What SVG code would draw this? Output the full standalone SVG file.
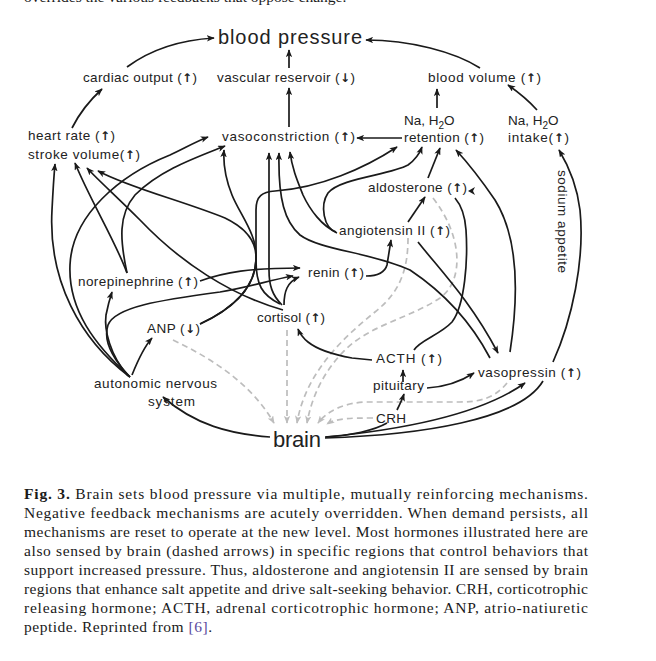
<svg xmlns="http://www.w3.org/2000/svg" width="656" height="661" viewBox="0 0 656 661">
<style>
.l{font-family:"Liberation Sans","DejaVu Sans",sans-serif;font-size:13.5px;fill:#222}
.big{font-size:20px}
.br{font-size:22px}
.ar{font-family:"DejaVu Sans",sans-serif;font-weight:bold;font-size:12px}
.c{stroke:#1a1a1a;stroke-width:1.7;fill:none;marker-end:url(#a)}
.n{stroke:#1a1a1a;stroke-width:1.7;fill:none}
.d{stroke:#bdbdbd;stroke-width:1.7;stroke-dasharray:6 4;fill:none;marker-end:url(#g)}
.cap{font-family:"Liberation Serif","DejaVu Serif",serif;font-size:15.5px;fill:#1a1a1a}
.sub{font-size:10px}
</style>
<defs>
<marker id="a" viewBox="0 0 10 8" refX="9" refY="4" markerWidth="8" markerHeight="6.4" markerUnits="userSpaceOnUse" orient="auto"><path d="M0,0 L10,4 L0,8 L2.5,4 z" fill="#1a1a1a"/></marker>
<marker id="g" viewBox="0 0 10 8" refX="9" refY="4" markerWidth="8" markerHeight="6.4" markerUnits="userSpaceOnUse" orient="auto"><path d="M0,0 L10,4 L0,8 L2.5,4 z" fill="#bdbdbd"/></marker>
</defs>
<rect width="656" height="661" fill="#fff"/>
<text class="cap" x="24" y="2">overrides the various feedbacks that oppose change.</text>

<g id="connectors">
<path class="d" d="M173,340 C215,360 252,385 274,423"/>
<path class="d" d="M287,330 L287,423"/>
<path class="d" d="M408,238 C408,270 400,292 375,312 C340,340 305,375 297,423"/>
<path class="d" d="M433,198 C462,235 465,280 440,298 C410,318 370,325 345,350 C325,370 312,395 307,423"/>
<path class="d" d="M507,383 C495,398 480,402 460,402 L365,402 C345,403 328,410 318,423"/>
<path class="d" d="M373,418 C352,418 336,418 327,424"/>
<path class="c" d="M127,67 C150,50 180,40 214,38"/>
<path class="c" d="M289,68 L289,50"/>
<path class="c" d="M480,68 C455,52 410,40 366,40"/>
<path class="c" d="M72,128 C80,112 90,100 102,89"/>
<path class="c" d="M289,127 L289,88"/>
<path class="c" d="M437,108 L437,89"/>
<path class="c" d="M537,110 C528,100 518,92 508,85"/>
<path class="c" d="M402,138 L357,138"/>
<path class="c" d="M325,437 C400,430 480,415 525,383"/>
<path class="n" d="M325,438 C420,435 520,420 543,381"/>
<path class="c" d="M553,362 C572,320 585,260 580,210 C577,185 568,165 559,150"/>
<path class="c" d="M510,352 C518,300 520,240 495,200 C480,178 468,163 456,150"/>
<path class="c" d="M428,178 L440,148"/>
<path class="c" d="M408,222 L425,197"/>
<path class="c" d="M366,276 C378,276 385,272 387,265 L391,240"/>
<path class="c" d="M336,232 C322,226 310,210 303,195 C297,180 292,168 290,152"/>
<path class="c" d="M337,233 C323,228 320,205 328,193 C340,178 390,175 408,165 C415,160 419,155 422,147"/>
<path class="c" d="M280,304 C262,295 256,285 256,260 L256,210 C256,196 262,192 275,191 C320,188 365,168 397,147"/>
<path class="c" d="M282,305 C272,295 269,285 269,270 L269,153"/>
<path class="c" d="M490,358 C470,320 440,290 410,270 C370,252 320,250 300,235 C285,222 278,200 279,153"/>
<path class="c" d="M418,242 C440,270 470,300 498,353"/>
<path class="n" d="M414,350 C420,340 440,335 452,322 C465,305 468,260 466,230 C465,215 461,205 455,198"/>
<path d="M475,187 L468,191 L475,195 L473,191 z" fill="#1a1a1a"/>
<path class="c" d="M372,360 L352,358 C335,355 318,350 308,342 C303,338 300,334 298,329"/>
<path class="c" d="M403,382 L403,370"/>
<path class="c" d="M397,410 C400,404 402,400 404,394"/>
<path class="n" d="M326,437 C350,436 375,430 387,423"/>
<path class="c" d="M427,388 C445,387 460,382 474,373"/>
<path class="c" d="M270,437 C230,434 195,425 163,397"/>
<path class="c" d="M130,377 C80,340 48,280 52,210 C53,190 54,175 55,164"/>
<path class="c" d="M130,377 C95,345 68,310 70,265 C72,215 120,175 170,155 C185,148 195,142 208,137"/>
<path class="c" d="M128,376 C110,355 104,330 106,315 C108,305 110,298 112,292"/>
<path class="c" d="M132,375 C138,360 144,347 152,338"/>
<path class="c" d="M130,377 C112,358 103,340 108,325 C115,307 160,300 220,292 C250,287 270,280 293,276"/>
<path class="c" d="M127,273 C115,240 90,200 75,163"/>
<path class="c" d="M127,273 C120,240 118,215 135,195 C160,170 195,158 225,146"/>
<path class="c" d="M200,281 C225,272 250,268 300,268"/>
<path class="c" d="M284,305 C284,292 287,282 299,277"/>
<path class="c" d="M283,310 C230,295 180,262 140,220 C115,195 98,180 87,168"/>
<path class="c" d="M200,324 C230,310 255,290 256,260 C257,245 250,230 225,218 C180,200 130,188 98,171"/>
<path class="c" d="M200,324 C230,310 255,290 256,260 C258,235 240,215 232,195 C226,180 223,165 224,150"/>
</g>

<g id="bp"><text class="l big" x="218" y="44" textLength="144">blood pressure</text></g>
<g id="cardiac"><text class="l" x="83" y="82" textLength="114">cardiac output (<tspan class="ar">↑</tspan>)</text></g>
<g id="vascres"><text class="l" x="217" y="82" textLength="138">vascular reservoir (<tspan class="ar">↓</tspan>)</text></g>
<g id="bloodvol"><text class="l" x="428" y="82" textLength="113">blood volume (<tspan class="ar">↑</tspan>)</text></g>
<g id="retention"><text class="l" x="404" y="125">Na, H<tspan class="sub" dy="4">2</tspan><tspan dy="-4">O</tspan></text><text class="l" x="404" y="142" textLength="80">retention (<tspan class="ar">↑</tspan>)</text></g>
<g id="intake"><text class="l" x="508" y="125">Na, H<tspan class="sub" dy="4">2</tspan><tspan dy="-4">O</tspan></text><text class="l" x="508" y="142" textLength="61">intake(<tspan class="ar">↑</tspan>)</text></g>
<g id="heart"><text class="l" x="28" y="140" textLength="87">heart rate (<tspan class="ar">↑</tspan>)</text><text class="l" x="28" y="159" textLength="112">stroke volume(<tspan class="ar">↑</tspan>)</text></g>
<g id="vasocon"><text class="l" x="222" y="141" textLength="133">vasoconstriction (<tspan class="ar">↑</tspan>)</text></g>
<g id="aldo"><text class="l" x="368" y="192" textLength="99">aldosterone (<tspan class="ar">↑</tspan>)</text></g>
<g id="angio"><text class="l" x="339" y="235" textLength="111">angiotensin II (<tspan class="ar">↑</tspan>)</text></g>
<g id="renin"><text class="l" x="308" y="277" textLength="56">renin (<tspan class="ar">↑</tspan>)</text></g>
<g id="norepi"><text class="l" x="78" y="286" textLength="120">norepinephrine (<tspan class="ar">↑</tspan>)</text></g>
<g id="cortisol"><text class="l" x="257" y="322" textLength="68">cortisol (<tspan class="ar">↑</tspan>)</text></g>
<g id="anp"><text class="l" x="147" y="333" textLength="53">ANP (<tspan class="ar">↓</tspan>)</text></g>
<g id="ans"><text class="l" x="94" y="388" textLength="123">autonomic nervous</text><text class="l" x="148" y="406" textLength="47">system</text></g>
<g id="brain"><text class="l br" x="273" y="447" textLength="48">brain</text></g>
<g id="acth"><text class="l" x="376" y="363" textLength="66">ACTH (<tspan class="ar">↑</tspan>)</text></g>
<g id="pituitary"><text class="l" x="373" y="390" textLength="51">pituitary</text></g>
<g id="crh"><text class="l" x="376" y="423" textLength="30">CRH</text></g>
<g id="vasopressin"><text class="l" x="478" y="377" textLength="103">vasopressin (<tspan class="ar">↑</tspan>)</text></g>
<g id="sodium"><text class="l" transform="translate(558,170) rotate(90)" x="0" y="0" textLength="103">sodium appetite</text></g>

<g id="caption">
<text class="cap" x="24" y="499" textLength="564" lengthAdjust="spacing"><tspan font-weight="bold">Fig. 3.</tspan> Brain sets blood pressure via multiple, mutually reinforcing mechanisms.</text>
<text class="cap" x="24" y="518" textLength="564" lengthAdjust="spacing">Negative feedback mechanisms are acutely overridden. When demand persists, all</text>
<text class="cap" x="24" y="537" textLength="564" lengthAdjust="spacing">mechanisms are reset to operate at the new level. Most hormones illustrated here are</text>
<text class="cap" x="24" y="556" textLength="564" lengthAdjust="spacing">also sensed by brain (dashed arrows) in specific regions that control behaviors that</text>
<text class="cap" x="24" y="575" textLength="564" lengthAdjust="spacing">support increased pressure. Thus, aldosterone and angiotensin II are sensed by brain</text>
<text class="cap" x="24" y="594" textLength="564" lengthAdjust="spacing">regions that enhance salt appetite and drive salt-seeking behavior. CRH, corticotrophic</text>
<text class="cap" x="24" y="613" textLength="564" lengthAdjust="spacing">releasing hormone; ACTH, adrenal corticotrophic hormone; ANP, atrio-natiuretic</text>
<text class="cap" x="24" y="632" textLength="188" lengthAdjust="spacing">peptide. Reprinted from <tspan fill="#5b4a9e">[6]</tspan>.</text>
</g>
</svg>
